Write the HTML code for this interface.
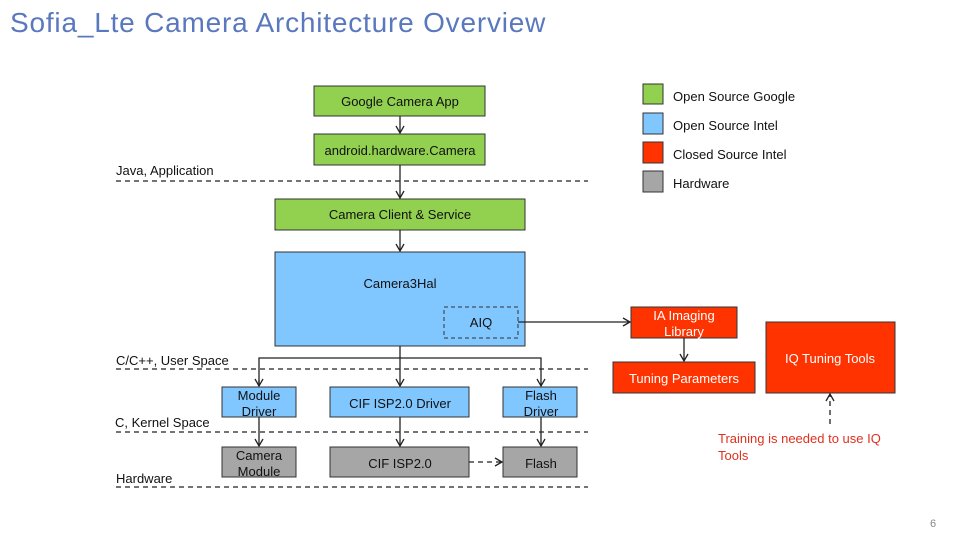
<!DOCTYPE html>
<html><head><meta charset="utf-8"><style>
body{margin:0;width:960px;height:540px;background:#fff;overflow:hidden;font-family:"Liberation Sans",sans-serif}
</style></head><body>
<svg width="960" height="540" xmlns="http://www.w3.org/2000/svg" font-family="Liberation Sans, sans-serif">
<defs>
<marker id="a" markerWidth="10" markerHeight="10" refX="8" refY="5" orient="auto" markerUnits="userSpaceOnUse"><path d="M1,1 L8,5 L1,9" fill="none" stroke="#222" stroke-width="1.3"/></marker>
</defs>
<text x="10" y="32" font-size="28" fill="#5a78bd" letter-spacing="0.8">Sofia_Lte Camera Architecture Overview</text>
<g stroke="#222" stroke-width="1.3" stroke-dasharray="5,4">
<line x1="116" y1="181" x2="588" y2="181"/>
<line x1="116" y1="369" x2="588" y2="369"/>
<line x1="116" y1="432" x2="588" y2="432"/>
<line x1="116" y1="487" x2="588" y2="487"/>
</g>
<g font-size="13" fill="#111">
<text x="116" y="175">Java, Application</text>
<text x="116" y="365">C/C++, User Space</text>
<text x="115" y="427">C, Kernel Space</text>
<text x="116" y="483">Hardware</text>
</g>
<g stroke="#333" stroke-width="1">
<rect x="314" y="86" width="171" height="30" fill="#92d050"/>
<rect x="314" y="134" width="171" height="31" fill="#92d050"/>
<rect x="275" y="199" width="250" height="31" fill="#92d050"/>
<rect x="275" y="252" width="250" height="94" fill="#80c6ff"/>
<rect x="222" y="387" width="74" height="30" fill="#80c6ff"/>
<rect x="330" y="387" width="139" height="30" fill="#80c6ff"/>
<rect x="503" y="387" width="74" height="30" fill="#80c6ff"/>
<rect x="222" y="447" width="74" height="30" fill="#a6a6a6"/>
<rect x="330" y="447" width="139" height="30" fill="#a6a6a6"/>
<rect x="503" y="447" width="74" height="30" fill="#a6a6a6"/>
<rect x="631" y="307" width="106" height="31" fill="#ff3300"/>
<rect x="613" y="362" width="142" height="31" fill="#ff3300"/>
<rect x="766" y="322" width="129" height="71" fill="#ff3300"/>
<rect x="643" y="84" width="20" height="20" fill="#92d050"/>
<rect x="643" y="113" width="20" height="21" fill="#80c6ff"/>
<rect x="643" y="142" width="20" height="21" fill="#ff3300"/>
<rect x="643" y="171" width="20" height="21" fill="#a6a6a6"/>
</g>
<rect x="444" y="307" width="74" height="31" fill="none" stroke="#333" stroke-dasharray="4,3"/>
<g stroke="#222" stroke-width="1.3" fill="none">
<line x1="400" y1="116" x2="400" y2="133" marker-end="url(#a)"/>
<line x1="400" y1="165" x2="400" y2="198" marker-end="url(#a)"/>
<line x1="400" y1="230" x2="400" y2="251" marker-end="url(#a)"/>
<line x1="400" y1="346" x2="400" y2="386" marker-end="url(#a)"/>
<polyline points="259,386 259,358 541,358 541,386" marker-end="url(#a)"/>
<line x1="259" y1="380" x2="259" y2="386" marker-end="url(#a)"/>
<line x1="259" y1="417" x2="259" y2="446" marker-end="url(#a)"/>
<line x1="400" y1="417" x2="400" y2="446" marker-end="url(#a)"/>
<line x1="541" y1="417" x2="541" y2="446" marker-end="url(#a)"/>
<line x1="469" y1="462" x2="502" y2="462" stroke-dasharray="5,4" marker-end="url(#a)"/>
<line x1="518" y1="322" x2="630" y2="322" marker-end="url(#a)"/>
<line x1="684" y1="338" x2="684" y2="361" marker-end="url(#a)"/>
<line x1="830" y1="424" x2="830" y2="394" stroke-dasharray="5,4" marker-end="url(#a)"/>
</g>
<g font-size="13" fill="#111" text-anchor="middle">
<text x="400" y="106">Google Camera App</text>
<text x="400" y="155">android.hardware.Camera</text>
<text x="400" y="219">Camera Client &amp; Service</text>
<text x="400" y="288">Camera3Hal</text>
<text x="481" y="327">AIQ</text>
<text x="259" y="400">Module</text><text x="259" y="416">Driver</text>
<text x="400" y="408">CIF ISP2.0 Driver</text>
<text x="541" y="400">Flash</text><text x="541" y="416">Driver</text>
<text x="259" y="460">Camera</text><text x="259" y="476">Module</text>
<text x="400" y="468">CIF ISP2.0</text>
<text x="541" y="468">Flash</text>
</g>
<g font-size="13" fill="#fff" text-anchor="middle">
<text x="684" y="320">IA Imaging</text><text x="684" y="336">Library</text>
<text x="684" y="383">Tuning Parameters</text>
<text x="830" y="363">IQ Tuning Tools</text>
</g>
<g font-size="13" fill="#111">
<text x="673" y="101">Open Source Google</text>
<text x="673" y="130">Open Source Intel</text>
<text x="673" y="159">Closed Source Intel</text>
<text x="673" y="188">Hardware</text>
</g>
<g font-size="13" fill="#e03020">
<text x="718" y="443">Training is needed to use IQ</text>
<text x="718" y="460">Tools</text>
</g>
<text x="930" y="527" font-size="11" fill="#888">6</text>
</svg>
</body></html>
